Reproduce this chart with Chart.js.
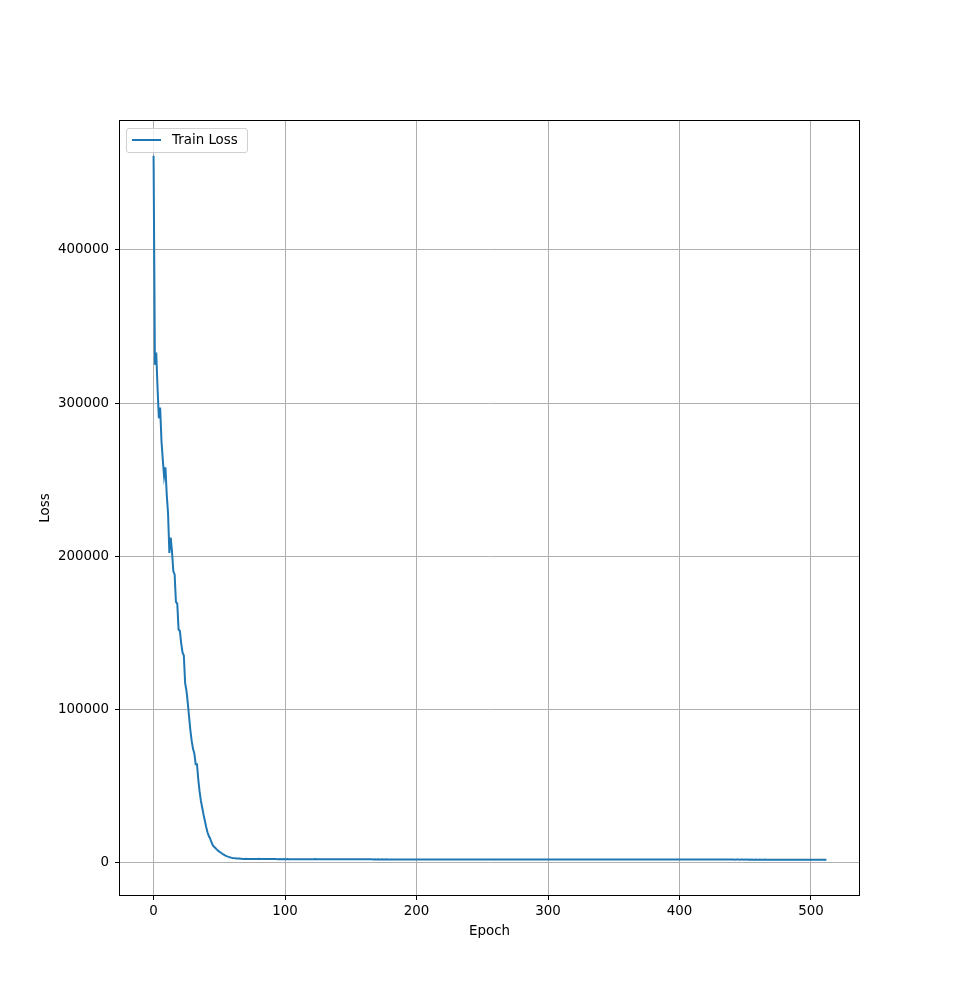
<!DOCTYPE html>
<html>
<head>
<meta charset="utf-8">
<script src="https://cdn.jsdelivr.net/npm/chart.js@4.4.1/dist/chart.umd.min.js"></script>
<style>
  html, body { margin: 0; padding: 0; background: #fff; }
  #wrap { position: relative; width: 956px; height: 1006px; }
  #legend {
    position: absolute; left: 126px; top: 128px; width: 120px; height: 23px;
    border: 1px solid #d0d0d0; border-radius: 3px; background: rgba(255,255,255,0.8);
    font-family: "DejaVu Sans", sans-serif; font-size: 13.4px; color: #000;
    box-sizing: content-box;
  }
  #legend .swatch { position: absolute; left: 5px; top: 10px; width: 29px; height: 2px; background: #1f77b4; }
  #legend .lbl { position: absolute; left: 45px; top: 3px; white-space: nowrap; line-height: 16px; }
</style>
</head>
<body>
<div id="wrap">
  <canvas id="c" width="956" height="1006"></canvas>
  <div id="legend"><div class="swatch"></div><div class="lbl" id="legendLabel"></div></div>
</div>
<script>
// ---- data ----
const seriesLabel = "Train Loss";
const xTitle = "Epoch";
const yTitle = "Loss";
const xTickValues = [0, 100, 200, 300, 400, 500];
const yTickValues = [0, 100000, 200000, 300000, 400000];

// epochs 0-65
const lossPhase1 = [
  461000,325000,333000,310000,290000,297000,275000,263000,252000,258000,
  240000,228000,202000,212000,203000,190000,188000,170000,169000,152000,
  151000,143000,137000,135000,117000,112000,104000,95000,86000,79000,
  74000,71000,64000,64000,54000,46000,40000,35500,31000,27000,
  23000,19500,17000,15500,13000,11000,10000,9200,8300,7500,
  6800,6300,5600,5000,4500,4100,3700,3400,3200,2900,
  2700,2600,2500,2400,2300,2300
];
// epochs 66-199
const lossPhase2 = [
  2200,2150,2100,2080,2120,2050,2020,2000,2060,1990,1980,2010,1970,1960,
  2150,2020,1990,1980,2080,1980,1970,2010,1960,1960,1990,1950,1950,1980,1940,1940,1970,1930,1930,1960,
  1930,1920,1950,1920,1910,1940,1910,1900,1930,1900,1900,1920,1890,1890,1910,1880,1880,1900,1880,1870,
  1890,1870,1870,1960,1860,1860,1880,1860,1850,1870,1850,1850,1860,1840,1840,1860,1840,1830,1850,1830,
  1830,1850,1830,1820,1840,1820,1820,1830,1810,1810,1830,1810,1810,1820,1800,1800,1820,1800,1800,1810,
  1800,1790,1810,1790,1790,1800,1790,1780,1800,1780,1780,1790,1780,1780,1790,1770,1770,1790,1770,1770,
  1780,1770,1760,1780,1760,1760,1770,1760,1760,1770,1750,1750,1760,1750,1750,1760,1750,1740,1750,1740
];
// epochs 200-511
const lossPhase3 = [
  1740,1750,1740,1740,1750,1740,1730,1740,1730,1740,1730,1730,1740,1730,1730,1730,1740,1730,1720,1730,
  1720,1730,1720,1720,1730,1720,1720,1720,1710,1720,1710,1720,1710,1710,1720,1710,1710,1710,1700,1710,
  1700,1710,1700,1700,1710,1700,1700,1700,1700,1690,1700,1690,1700,1690,1690,1700,1690,1690,1690,1690,
  1690,1680,1690,1680,1690,1680,1680,1690,1680,1680,1680,1680,1670,1680,1670,1680,1670,1670,1680,1670,
  1670,1670,1680,1670,1670,1670,1670,1670,1660,1670,1660,1670,1660,1660,1670,1660,1660,1660,1660,1670,
  1660,1660,1660,1660,1670,1660,1660,1660,1650,1660,1660,1660,1650,1660,1660,1650,1660,1650,1660,1660,
  1650,1660,1650,1650,1660,1650,1650,1650,1660,1650,1650,1650,1650,1660,1650,1650,1650,1650,1640,1650,
  1650,1650,1650,1640,1650,1650,1640,1650,1650,1640,1650,1640,1650,1650,1640,1650,1640,1640,1650,1640,
  1640,1650,1640,1640,1640,1650,1640,1640,1640,1640,1650,1640,1640,1640,1640,1640,1630,1640,1640,1640,
  1640,1640,1630,1640,1640,1630,1640,1640,1630,1640,1630,1640,1630,1630,1640,1630,1630,1640,1630,1630,
  1630,1640,1630,1630,1630,1630,1640,1630,1630,1630,1630,1620,1630,1630,1630,1630,1620,1630,1630,1620,
  1630,1630,1620,1630,1620,1630,1620,1620,1630,1620,1620,1630,1620,1620,1620,1620,1630,1620,1620,1620,
  1620,1620,1610,1620,1620,1620,1610,1620,1620,1610,1620,1620,1610,1620,1610,1620,1610,1610,1620,1610,
  1610,1620,1610,1610,1610,1620,1610,1610,1610,1610,1610,1600,1610,1610,1610,1600,1610,1610,1600,1610,
  1600,1610,1600,1610,1600,1600,1610,1600,1600,1600,1600,1610,1600,1600,1600,1600,1590,1600,1600,1600,
  1600,1590,1600,1600,1590,1600,1590,1600,1590,1590,1600,1590
];

const lossValues = lossPhase1.concat(lossPhase2, lossPhase3);
const epochs = lossValues.map((_, i) => i);

// ---- chart ----
const FONT = { family: "'DejaVu Sans', sans-serif", size: 13.4 };
const xMin = -0.05 * (epochs.length - 1), xMax = (epochs.length - 1) * 1.05;
const yMin = -21500, yMax = 484300;

const framePlugin = {
  id: 'frame',
  afterDatasetsDraw(chart) {
    const a = chart.chartArea, ctx = chart.ctx;
    ctx.save();
    ctx.strokeStyle = '#000';
    ctx.lineWidth = 1;
    ctx.strokeRect(Math.round(a.left) - 0.5, Math.round(a.top) - 0.5,
                   Math.round(a.right - a.left) + 1, Math.round(a.bottom - a.top) + 1);
    ctx.restore();
  }
};

document.getElementById('legendLabel').textContent = seriesLabel;

new Chart(document.getElementById('c'), {
  type: 'line',
  data: {
    datasets: [{
      label: seriesLabel,
      data: epochs.map((e, i) => ({ x: e, y: lossValues[i] })),
      borderColor: '#1f77b4',
      borderWidth: 2,
      borderCapStyle: 'square',
      pointRadius: 0,
      tension: 0,
      fill: false
    }]
  },
  options: {
    responsive: false,
    animation: false,
    layout: { padding: { top: 121, right: 97, left: 0, bottom: 0 } },
    plugins: { legend: { display: false }, tooltip: { enabled: false } },
    scales: {
      x: {
        type: 'linear', min: xMin, max: xMax,
        afterBuildTicks: s => { s.ticks = xTickValues.map(v => ({ value: v })); },
        afterFit: s => { s.height = 111; },
        ticks: { font: FONT, color: '#000', padding: 3, maxRotation: 0, autoSkip: false,
                 callback: v => String(v) },
        grid: { color: '#b0b0b0', lineWidth: 1, tickColor: '#000', tickLength: 5 },
        border: { display: false },
        title: { display: true, text: xTitle, font: FONT, color: '#000', padding: { top: 0, bottom: 66 } }
      },
      y: {
        type: 'linear', min: yMin, max: yMax,
        afterBuildTicks: s => { s.ticks = yTickValues.map(v => ({ value: v })); },
        afterFit: s => { s.width = 120; },
        ticks: { font: FONT, color: '#000', padding: 6, autoSkip: false,
                 callback: v => String(v) },
        grid: { color: '#b0b0b0', lineWidth: 1, tickColor: '#000', tickLength: 5 },
        border: { display: false },
        title: { display: true, text: yTitle, font: FONT, color: '#000', padding: { top: 37, bottom: 0 } }
      }
    }
  },
  plugins: [framePlugin]
});
</script>
</body>
</html>
